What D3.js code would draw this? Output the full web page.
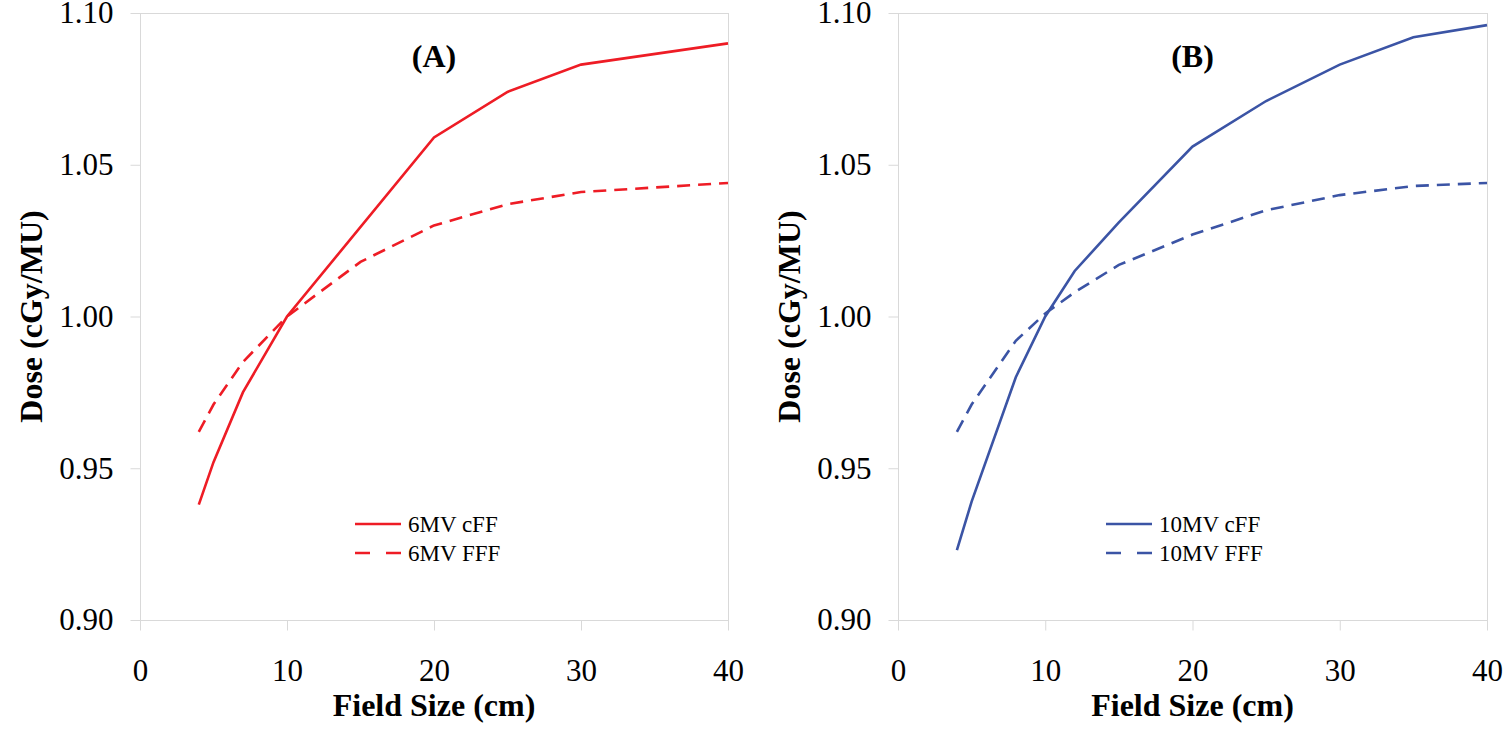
<!DOCTYPE html>
<html>
<head>
<meta charset="utf-8">
<script src="https://cdn.jsdelivr.net/npm/d3@7"></script>
<style>
  html, body { margin: 0; padding: 0; background: #fff; }
  svg { display: block; }
  text { font-family: "Liberation Serif", "Times New Roman", serif; fill: #000; }
</style>
</head>
<body>
<svg id="chart" width="1504" height="734"></svg>
<script>
// ---------- data ----------
const xTicks = [0, 10, 20, 30, 40];
const yTicks = [0.90, 0.95, 1.00, 1.05, 1.10];

const fieldSize6cFF = [4, 5, 7, 10, 20, 25, 30, 40];
const dose6cFF      = [0.938, 0.952, 0.975, 1.000, 1.059, 1.074, 1.083, 1.090];
const fieldSize6FFF = [4, 5, 7, 10, 15, 20, 25, 30, 40];
const dose6FFF      = [0.962, 0.971, 0.985, 1.000, 1.018, 1.030, 1.037, 1.041, 1.044];

const fieldSize10   = [4, 5, 8, 10, 12, 15, 20, 25, 30, 35, 40];
const dose10cFF     = [0.923, 0.939, 0.980, 1.000, 1.015, 1.031, 1.056, 1.071, 1.083, 1.092, 1.096];
const dose10FFF     = [0.962, 0.971, 0.992, 1.001, 1.008, 1.017, 1.027, 1.035, 1.040, 1.043, 1.044];

const panelTitles = ["(A)", "(B)"];
const seriesNames6  = ["6MV cFF", "6MV FFF"];
const seriesNames10 = ["10MV cFF", "10MV FFF"];
const xTitle = "Field Size (cm)";
const yTitle = "Dose (cGy/MU)";

// ---------- drawing ----------
const svg = d3.select("#chart");
const RED = "#ee1c25", BLUE = "#3b54a5", GRID = "#d9d9d9";

const panels = [
  { left: 140, right: 728, title: panelTitles[0], color: RED,
    series: [
      { name: seriesNames6[0], x: fieldSize6cFF, y: dose6cFF, dash: null },
      { name: seriesNames6[1], x: fieldSize6FFF, y: dose6FFF, dash: "13,8" }
    ], legendX: 355 },
  { left: 898, right: 1487, title: panelTitles[1], color: BLUE,
    series: [
      { name: seriesNames10[0], x: fieldSize10, y: dose10cFF, dash: null },
      { name: seriesNames10[1], x: fieldSize10, y: dose10FFF, dash: "13,8" }
    ], legendX: 1106 }
];
const plotTop = 13, plotBottom = 620;

panels.forEach(p => {
  const x = d3.scaleLinear().domain([0, 40]).range([p.left, p.right]);
  const y = d3.scaleLinear().domain([0.90, 1.10]).range([plotBottom, plotTop]);
  const g = svg.append("g");

  // plot border
  g.append("rect")
    .attr("x", p.left + 0.5).attr("y", plotTop + 0.5)
    .attr("width", p.right - p.left).attr("height", plotBottom - plotTop)
    .attr("fill", "none").attr("stroke", GRID).attr("stroke-width", 1);

  // y axis
  const yAxis = d3.axisLeft(y).tickValues(yTicks).tickFormat(d3.format(".2f"))
    .tickSize(10).tickPadding(17);
  const ya = g.append("g").attr("transform", `translate(${p.left + 0.5},0)`).call(yAxis);
  ya.select(".domain").remove();
  ya.selectAll("line").attr("stroke", GRID);
  ya.selectAll("text").style("font-size", "31px").attr("fill", "#000")
    .style("font-family", "'Liberation Serif', serif");

  // x axis
  const xAxis = d3.axisBottom(x).tickValues(xTicks).tickFormat(d3.format("d"))
    .tickSize(10).tickPadding(28);
  const xa = g.append("g").attr("transform", `translate(0,${plotBottom + 0.5})`).call(xAxis);
  xa.select(".domain").remove();
  xa.selectAll("line").attr("stroke", GRID);
  xa.selectAll("text").style("font-size", "31px").attr("fill", "#000")
    .style("font-family", "'Liberation Serif', serif");

  // axis titles
  g.append("text")
    .attr("x", (p.left + p.right) / 2).attr("y", 716)
    .attr("text-anchor", "middle")
    .style("font-size", "32px").style("font-weight", "bold")
    .text(xTitle);
  g.append("text")
    .attr("transform", `translate(${p.left - 98},${(plotTop + plotBottom) / 2}) rotate(-90)`)
    .attr("text-anchor", "middle")
    .style("font-size", "32px").style("font-weight", "bold")
    .text(yTitle);

  // panel title
  g.append("text")
    .attr("x", x(20)).attr("y", 67)
    .attr("text-anchor", "middle")
    .style("font-size", "32px").style("font-weight", "bold")
    .text(p.title);

  // lines
  const line = d3.line().x(d => x(d[0])).y(d => y(d[1]));
  p.series.forEach(s => {
    const pts = s.x.map((v, i) => [v, s.y[i]]);
    g.append("path").datum(pts)
      .attr("d", line)
      .attr("fill", "none")
      .attr("stroke", p.color)
      .attr("stroke-width", 2.6)
      .attr("stroke-dasharray", s.dash);
  });

  // legend
  p.series.forEach((s, i) => {
    const ly = 524 + i * 29;
    g.append("line")
      .attr("x1", p.legendX).attr("x2", p.legendX + 46)
      .attr("y1", ly).attr("y2", ly)
      .attr("stroke", p.color).attr("stroke-width", 2.6)
      .attr("stroke-dasharray", s.dash ? "15,16" : null);
    g.append("text")
      .attr("x", p.legendX + 53).attr("y", ly + 8)
      .style("font-size", "23px")
      .text(s.name);
  });
});
</script>
</body>
</html>
